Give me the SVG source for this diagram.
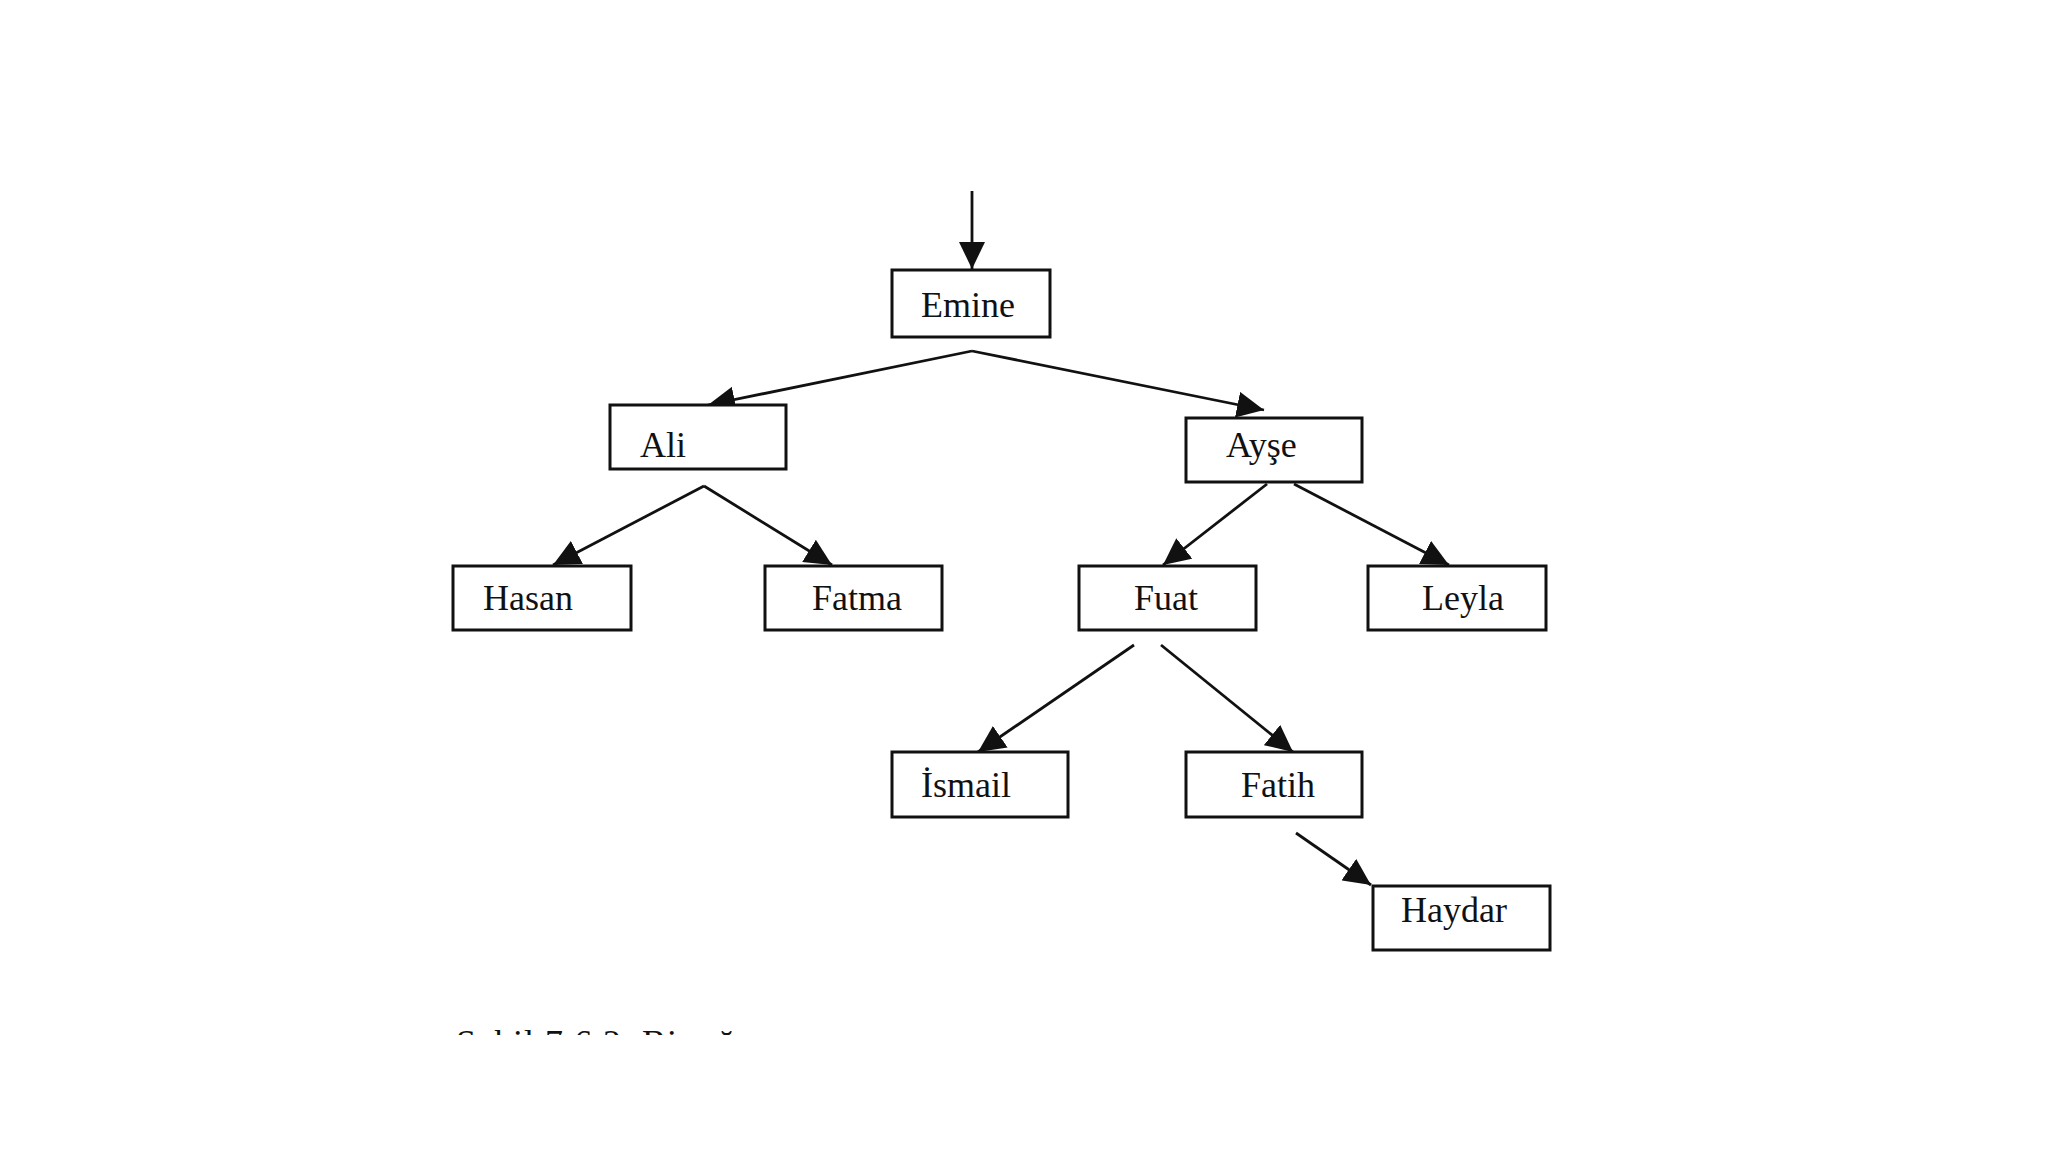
<svg xmlns="http://www.w3.org/2000/svg" width="2048" height="1152" viewBox="0 0 2048 1152">
<style>
.box{fill:#fff;stroke:#111;stroke-width:3}
.lbl{font-family:"Liberation Serif","Times New Roman",serif;font-size:36px;fill:#111}
.edge{stroke:#111;stroke-width:2.8;fill:none}
</style>
<defs>
<marker id="ah" markerUnits="userSpaceOnUse" markerWidth="28" markerHeight="26" refX="27" refY="13" orient="auto">
<path d="M0,0 L27,13 L0,26 z" fill="#111"/>
</marker>
<clipPath id="capclip"><rect x="0" y="0" width="2048" height="1035"/></clipPath>
</defs>
<rect width="2048" height="1152" fill="#fff"/>
<g id="connectors">
<line class="edge" x1="972" y1="191" x2="972" y2="269" marker-end="url(#ah)"/>
<line class="edge" x1="972" y1="351" x2="708" y2="405" marker-end="url(#ah)"/>
<line class="edge" x1="972" y1="351" x2="1264" y2="410" marker-end="url(#ah)"/>
<line class="edge" x1="704" y1="486" x2="553" y2="565" marker-end="url(#ah)"/>
<line class="edge" x1="704" y1="486" x2="832" y2="565" marker-end="url(#ah)"/>
<line class="edge" x1="1267" y1="484" x2="1163" y2="565" marker-end="url(#ah)"/>
<line class="edge" x1="1294" y1="484" x2="1449" y2="565" marker-end="url(#ah)"/>
<line class="edge" x1="1134" y1="645" x2="978" y2="752" marker-end="url(#ah)"/>
<line class="edge" x1="1161" y1="645" x2="1293" y2="752" marker-end="url(#ah)"/>
<line class="edge" x1="1296" y1="833" x2="1371" y2="885" marker-end="url(#ah)"/>
</g>
<g id="n-emine"><rect class="box" x="892" y="270" width="158" height="67"/><text class="lbl" x="921" y="317">Emine</text></g>
<g id="n-ali"><rect class="box" x="610" y="405" width="176" height="64"/><text class="lbl" x="640" y="457">Ali</text></g>
<g id="n-ayse"><rect class="box" x="1186" y="418" width="176" height="64"/><text class="lbl" x="1226" y="457">Ayşe</text></g>
<g id="n-hasan"><rect class="box" x="453" y="566" width="178" height="64"/><text class="lbl" x="483" y="610">Hasan</text></g>
<g id="n-fatma"><rect class="box" x="765" y="566" width="177" height="64"/><text class="lbl" x="812" y="610">Fatma</text></g>
<g id="n-fuat"><rect class="box" x="1079" y="566" width="177" height="64"/><text class="lbl" x="1134" y="610">Fuat</text></g>
<g id="n-leyla"><rect class="box" x="1368" y="566" width="178" height="64"/><text class="lbl" x="1422" y="610">Leyla</text></g>
<g id="n-ismail"><rect class="box" x="892" y="752" width="176" height="65"/><text class="lbl" x="921" y="797">İsmail</text></g>
<g id="n-fatih"><rect class="box" x="1186" y="752" width="176" height="65"/><text class="lbl" x="1241" y="797">Fatih</text></g>
<g id="n-haydar"><rect class="box" x="1373" y="886" width="177" height="64"/><text class="lbl" x="1401" y="922">Haydar</text></g>
<g id="caption" clip-path="url(#capclip)"><text class="lbl" x="456" y="1055" letter-spacing="1">Şekil 7.6.2. Bir ağaç</text></g>
</svg>
